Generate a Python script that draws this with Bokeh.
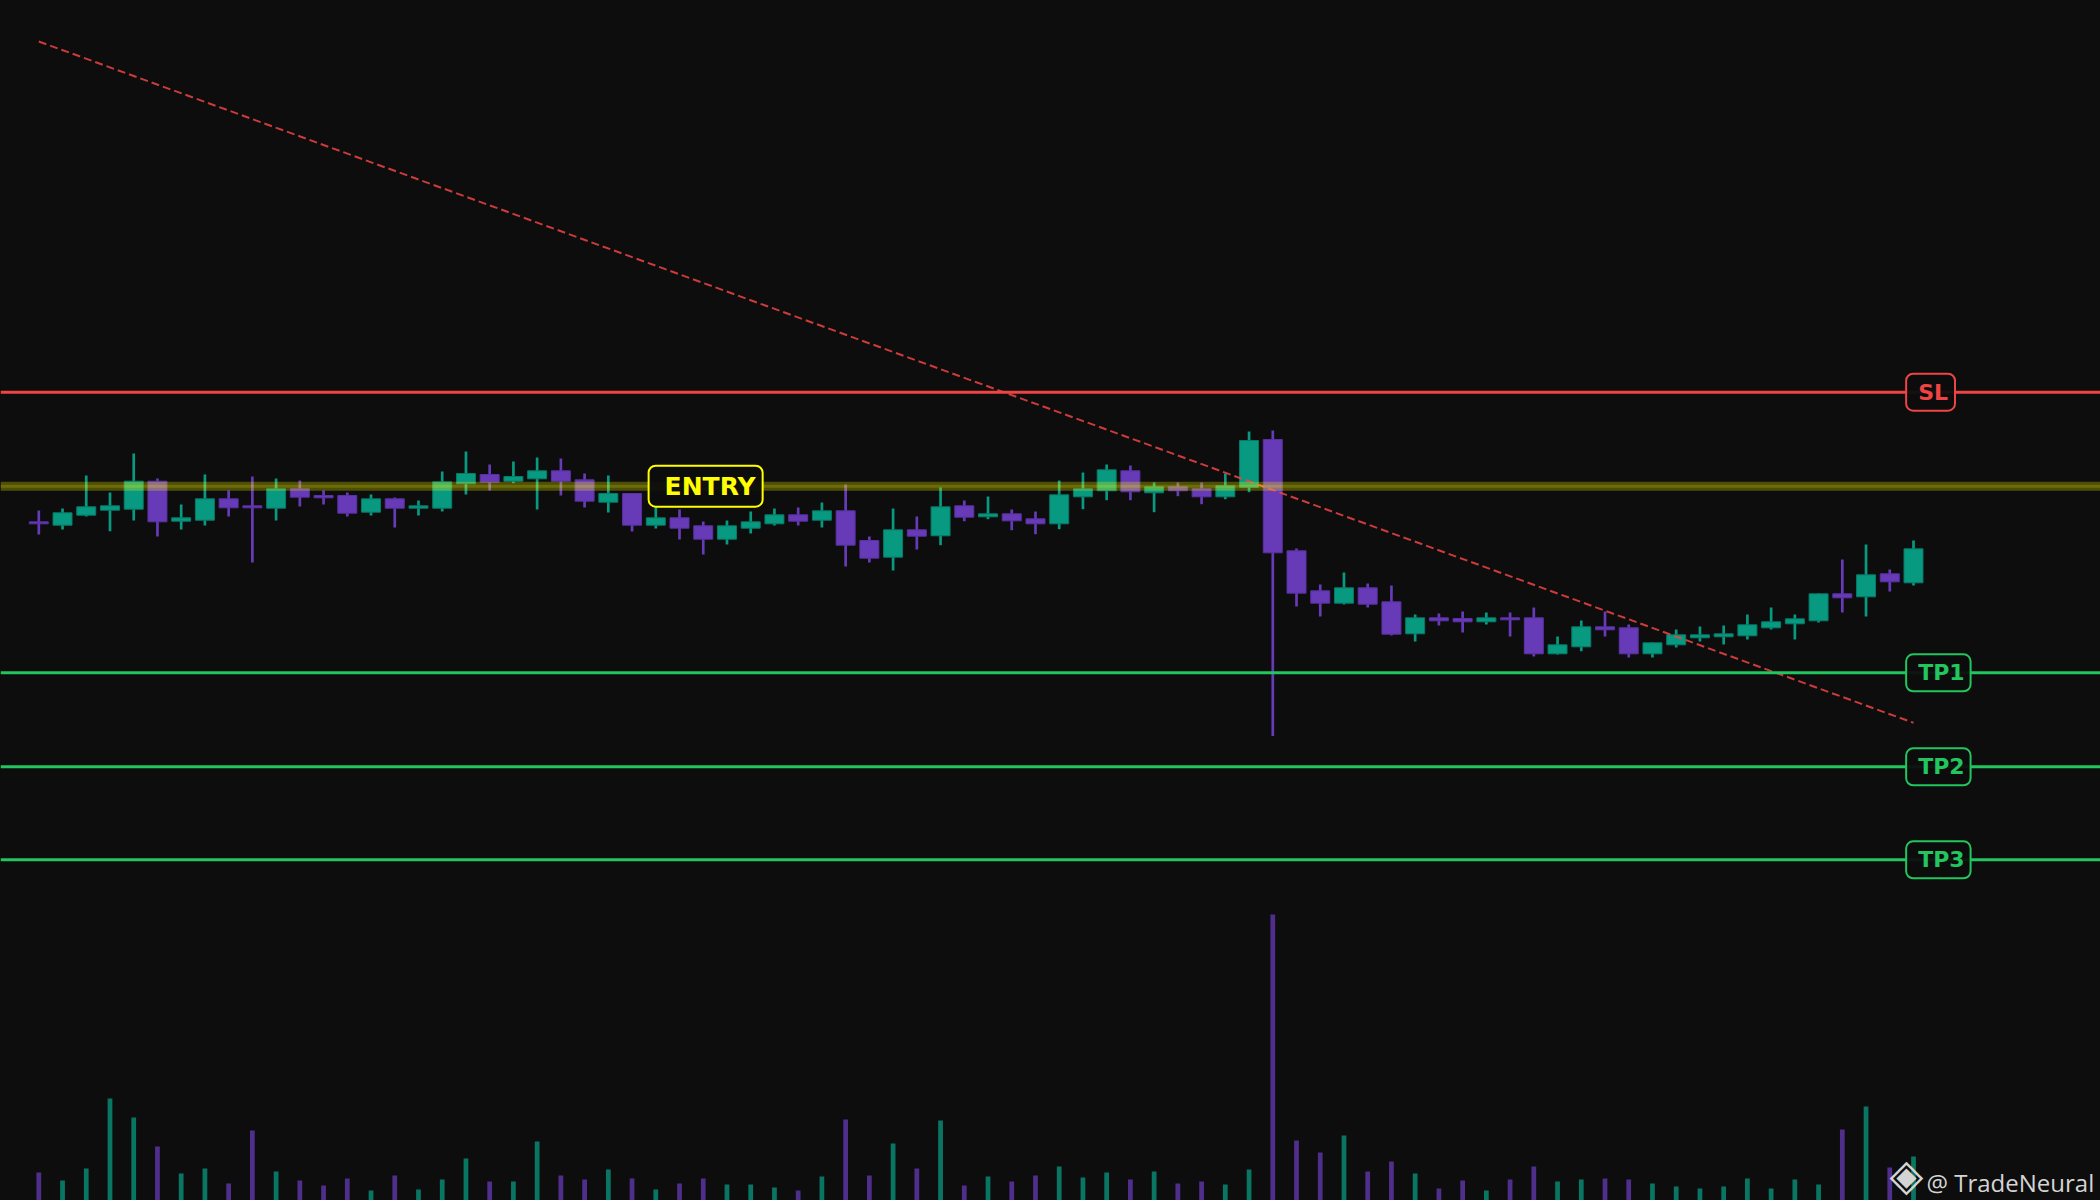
import numpy as np
from bokeh.plotting import figure
from bokeh.models import Range1d, Span, Label, ColumnDataSource
from bokeh.embed import file_html
from bokeh.resources import INLINE

# ---------------- data ----------------
opens = [6.787, 6.753, 6.853, 6.903, 6.913, 7.193, 6.793, 6.803, 7.017, 6.947,
         6.923, 7.117, 7.050, 7.050, 6.883, 7.017, 6.923, 6.923, 7.167, 7.260,
         7.193, 7.217, 7.297, 7.207, 6.983, 7.070, 6.753, 6.827, 6.747, 6.613,
         6.723, 6.767, 6.857, 6.803, 6.897, 6.600, 6.433, 6.707, 6.647, 6.947,
         6.837, 6.867, 6.817, 6.767, 7.037, 7.097, 7.297, 7.077, 7.137, 7.117,
         7.037, 7.133, 7.610, 6.497, 6.097, 5.973, 6.127, 5.987, 5.667, 5.827,
         5.820, 5.787, 5.827, 5.827, 5.467, 5.537, 5.737, 5.727, 5.467, 5.557,
         5.627, 5.637, 5.647, 5.727, 5.767, 5.797, 6.067, 6.037, 6.267, 6.177]
highs = [6.900, 6.920, 7.250, 7.080, 7.470, 7.220, 6.960, 7.260, 7.100, 7.240,
         7.220, 7.200, 7.100, 7.080, 7.060, 7.030, 7.000, 7.290, 7.490, 7.360,
         7.390, 7.430, 7.420, 7.270, 7.250, 7.075, 6.950, 6.910, 6.790, 6.800,
         6.890, 6.920, 6.930, 6.980, 7.160, 6.640, 6.920, 6.840, 7.130, 7.000,
         7.040, 6.910, 6.890, 7.200, 7.280, 7.360, 7.350, 7.180, 7.180, 7.180,
         7.270, 7.690, 7.700, 6.520, 6.160, 6.280, 6.170, 6.150, 5.860, 5.870,
         5.890, 5.880, 5.880, 5.930, 5.640, 5.800, 5.890, 5.760, 5.580, 5.710,
         5.740, 5.750, 5.860, 5.930, 5.860, 6.070, 6.410, 6.560, 6.310, 6.600]
lows = [6.660, 6.710, 6.840, 6.693, 6.800, 6.640, 6.710, 6.750, 6.840, 6.380,
        6.800, 6.940, 6.960, 6.840, 6.850, 6.730, 6.850, 6.890, 7.060, 7.100,
        7.173, 6.910, 7.050, 6.930, 6.880, 6.690, 6.720, 6.610, 6.460, 6.560,
        6.670, 6.750, 6.750, 6.730, 6.340, 6.380, 6.300, 6.510, 6.553, 6.793,
        6.813, 6.703, 6.663, 6.713, 6.913, 7.003, 7.003, 6.883, 7.043, 6.963,
        7.013, 7.083, 4.645, 5.940, 5.840, 5.960, 5.930, 5.650, 5.590, 5.750,
        5.680, 5.760, 5.640, 5.440, 5.460, 5.493, 5.640, 5.430, 5.430, 5.530,
        5.590, 5.560, 5.610, 5.710, 5.610, 5.780, 5.880, 5.840, 6.090, 6.150]
closes = [6.767, 6.877, 6.937, 6.947, 7.193, 6.787, 6.827, 7.017, 6.927, 6.927,
          7.117, 7.033, 7.027, 6.873, 7.017, 6.923, 6.947, 7.187, 7.270, 7.183,
          7.240, 7.297, 7.193, 6.993, 7.070, 6.753, 6.827, 6.723, 6.613, 6.747,
          6.787, 6.857, 6.793, 6.897, 6.553, 6.423, 6.707, 6.643, 6.937, 6.833,
          6.867, 6.797, 6.767, 7.057, 7.117, 7.307, 7.087, 7.137, 7.097, 7.037,
          7.147, 7.600, 6.477, 6.073, 5.973, 6.127, 5.963, 5.663, 5.827, 5.797,
          5.787, 5.827, 5.807, 5.467, 5.557, 5.737, 5.707, 5.467, 5.577, 5.657,
          5.657, 5.667, 5.757, 5.787, 5.817, 6.067, 6.027, 6.257, 6.187, 6.517]
volumes = [28, 20, 32, 102, 83, 54, 27, 32, 17, 70,
           29, 20, 15, 22, 10, 25, 11, 21, 42, 19,
           19, 59, 25, 21, 31, 22, 11, 17, 22, 16,
           16, 13, 10, 24, 81, 25, 57, 32, 80, 15,
           24, 19, 25, 34, 23, 28, 21, 29, 17, 19,
           16, 31, 286, 60, 48, 65, 29, 39, 27, 12,
           20, 10, 21, 34, 19, 21, 22, 21, 17, 14,
           12, 14, 22, 12, 21, 16, 71, 94, 33, 44]

entry_price = 7.143
sl_price = 8.083
tp_names = ["TP1", "TP2", "TP3"]
tp_prices = [5.277, 4.337, 3.407]
trend_idx = [0, 79]
trend_price = [11.59, 4.777]
watermark = "@ TradeNeural"

# ---------------- styling ----------------
BG = "#0d0d0d"
UP = "#089981"
DOWN = "#673ab7"
UP_EDGE = "#077a67"
DOWN_EDGE = "#5a31a3"
RED = "#ef4444"
GREEN = "#22c55e"
YELLOW = "#ffff00"

n = len(opens)
idx = np.arange(n)
o = np.array(opens); h = np.array(highs); l = np.array(lows); c = np.array(closes)
is_up = c >= o
fill = [UP if u else DOWN for u in is_up]
edge = [UP_EDGE if u else DOWN_EDGE for u in is_up]

src = ColumnDataSource(dict(
    x=idx, open=o, high=h, low=l, close=c,
    top=np.maximum(o, c), bottom=np.minimum(o, c),
    vol=np.array(volumes, dtype=float), color=fill, edge=edge,
))

W, H = 2100, 1200
p = figure(width=W, height=H, output_backend="svg", toolbar_location=None,
           x_axis_location=None, y_axis_location=None,
           x_range=Range1d(-1.614, 86.88), y_range=Range1d(0.0, 12.0),
           min_border=0, background_fill_color=BG, border_fill_color=BG,
           outline_line_color=None)
p.grid.visible = False
p.extra_y_ranges = {"vol": Range1d(0, 1200)}

# volume bars
p.vbar(x="x", top="vol", bottom=0, width=0.2, source=src, y_range_name="vol",
       fill_color="color", fill_alpha=0.75, line_color=None)

# candles
p.segment(x0="x", y0="high", x1="x", y1="low", source=src,
          line_color="color", line_width=2.7)
p.vbar(x="x", top="top", bottom="bottom", width=0.8, source=src,
       fill_color="color", line_color="edge", line_width=1)

# trend line
p.line(trend_idx, trend_price, line_color=RED, line_alpha=0.85, line_width=2,
       line_dash="8 4")

# levels
p.add_layout(Span(location=sl_price, dimension="width", line_color=RED, line_width=3))
for tp in tp_prices:
    p.add_layout(Span(location=tp, dimension="width", line_color=GREEN, line_width=3))
p.add_layout(Span(location=entry_price, dimension="width", line_color=YELLOW,
                  line_alpha=0.27, line_width=9))
p.add_layout(Span(location=entry_price, dimension="width", line_color=YELLOW,
                  line_alpha=0.18, line_width=3))


def make_label(x, y, text, color, size, align, pad):
    kw = dict(x=x, y=y, text=text, text_color=color, text_font="DejaVu Sans",
              text_font_size=size, text_font_style="bold", text_align=align,
              text_baseline="middle", background_fill_color=BG,
              background_fill_alpha=0.95, border_line_color=color,
              border_line_width=2, border_radius=7)
    try:
        return Label(padding=pad, **kw)
    except Exception:
        return Label(padding=6, **kw)


lab_x = n - 1 - 0.31
p.add_layout(make_label(lab_x, sl_price, "SL", RED, "22px", "left",
                        dict(left=12, right=7, top=6, bottom=6)))
for name, tp in zip(tp_names, tp_prices):
    p.add_layout(make_label(lab_x, tp, name, GREEN, "22px", "left",
                            dict(left=12, right=6, top=6, bottom=6)))
p.add_layout(make_label(28.1, entry_price, "ENTRY", YELLOW, "25px", "center",
                        dict(left=16, right=7, top=6, bottom=6)))

# watermark
p.add_layout(Label(x=1926, y=18, x_units="screen", y_units="screen",
                   text=watermark, text_color="#d4d4d4", text_font="Open Sans",
                   text_font_size="24px", text_align="left", text_baseline="alphabetic"))
p.add_layout(Label(x=1906, y=26, x_units="screen", y_units="screen",
                   text="◈", text_color="#d4d4d4", text_font="DejaVu Sans",
                   text_font_size="44px", text_align="center", text_baseline="middle"))

html = file_html(p, INLINE, title="chart")
html = html.replace("</head>", "<style>html,body{background:%s;}</style></head>" % BG, 1)
open("out.html", "w").write(html)
